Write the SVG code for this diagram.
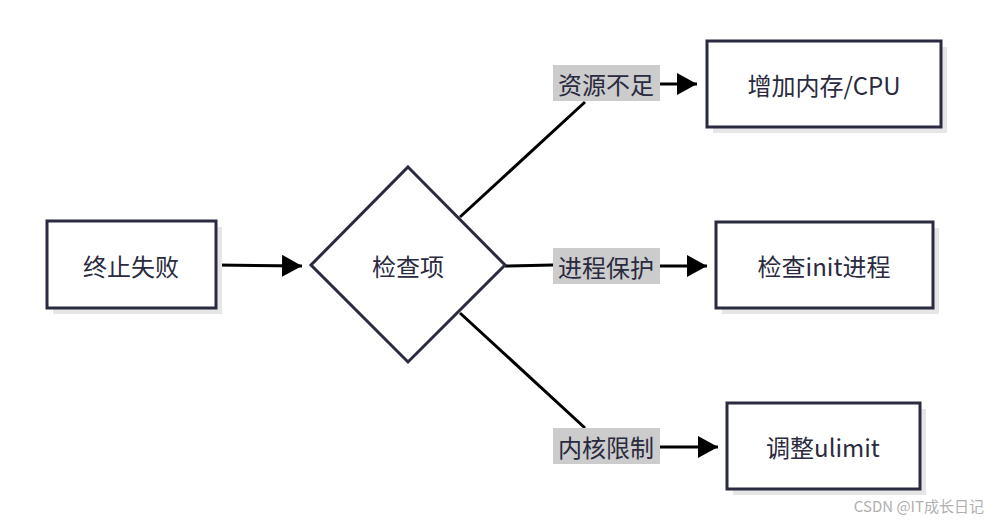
<svg xmlns="http://www.w3.org/2000/svg" width="988" height="522" viewBox="0 0 988 522">
<style>
.n{fill:#fff;stroke:#2a2a40;stroke-width:3}
.sh{fill:#e6e6e6}
.t{font-family:"Noto Sans CJK SC","Noto Sans",sans-serif;font-size:24px;fill:#2a2a40;text-anchor:middle;dominant-baseline:central}
.lb{fill:#cccccc}
.l{stroke:#000;stroke-width:3;fill:none}
</style>
<defs><marker id="a" markerWidth="8" markerHeight="8" refX="7" refY="4" orient="auto" markerUnits="userSpaceOnUse"><path d="M0,0L8,4L0,8z"/></marker>
<marker id="b" markerWidth="20" markerHeight="22" refX="20" refY="11" orient="auto" markerUnits="userSpaceOnUse"><path d="M0,0L20,11L0,22z" fill="#000"/></marker></defs>
<rect width="988" height="522" fill="#fff"/>
<g id="connectors">
<path class="l" d="M216,265L302,266" marker-end="url(#b)"/>
<path class="l" d="M460,217L585,102"/>
<path class="l" d="M660,84L697,84" marker-end="url(#b)"/>
<path class="l" d="M505,266L553,265"/>
<path class="l" d="M660,266L707,266" marker-end="url(#b)"/>
<path class="l" d="M460,313L585,428"/>
<path class="l" d="M660,447L718,447" marker-end="url(#b)"/>
</g>
<g id="n1"><rect class="sh" x="53" y="227" width="169" height="87"/><rect class="n" x="47" y="221" width="169" height="87"/><text class="t" x="131" y="265">终止失败</text></g>
<g id="n2"><path class="n" d="M408,167L505,265L408,362L311,265Z"/><text class="t" x="408" y="265">检查项</text></g>
<g id="n3"><rect class="sh" x="713" y="47" width="234" height="86"/><rect class="n" x="707" y="41" width="234" height="86"/><text class="t" x="824" y="84">增加内存/CPU</text></g>
<g id="n4"><rect class="sh" x="722" y="228" width="217" height="86"/><rect class="n" x="716" y="222" width="217" height="86"/><text class="t" x="824" y="265">检查init进程</text></g>
<g id="n5"><rect class="sh" x="733" y="409" width="193" height="86"/><rect class="n" x="727" y="403" width="193" height="86"/><text class="t" x="823" y="446">调整ulimit</text></g>
<g id="labels">
<rect class="lb" x="553" y="65" width="107" height="36"/><text class="t" x="606" y="83">资源不足</text>
<rect class="lb" x="553" y="248" width="107" height="36"/><text class="t" x="606" y="266">进程保护</text>
<rect class="lb" x="553" y="428" width="107" height="36"/><text class="t" x="606" y="446">内核限制</text>
</g>
<text x="984" y="505" font-family="Noto Sans CJK SC,sans-serif" font-size="15" fill="#b0b0b0" text-anchor="end" dominant-baseline="central">CSDN @IT成长日记</text>
</svg>
